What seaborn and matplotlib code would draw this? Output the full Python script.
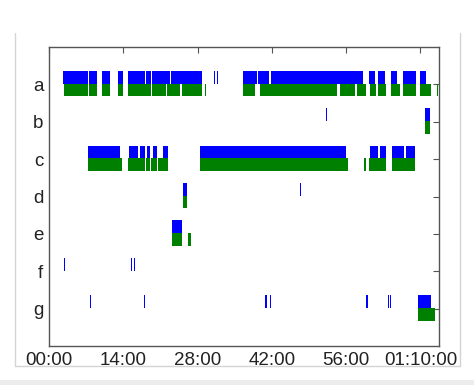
import matplotlib
matplotlib.use("Agg")
import matplotlib.pyplot as plt
import seaborn as sns
from matplotlib.patches import Rectangle
from matplotlib.lines import Line2D

# ---- data (seconds) ----
categories = ["a", "b", "c", "d", "e", "f", "g"]
tick_seconds = [0, 840, 1680, 2520, 3360, 4200]
tick_labels = ["00:00", "14:00", "28:00", "42:00", "56:00", "01:10:00"]

blue_a = [(0, 15), (162, 444), (456, 546), (595, 693), (783, 833), (889, 1085),
          (1096, 1153), (1168, 1367), (1379, 1725), (1866, 1876), (1900, 1910),
          (2189, 2234), (2241, 2347), (2365, 2490), (2505, 3552), (3620, 3684),
          (3721, 3797), (3872, 3936), (4004, 4155), (4192, 4268)]
blue_b = [(3133, 3146), (4256, 4305)]
blue_c = [(444, 802), (907, 1009), (1028, 1085), (1104, 1141), (1172, 1224),
          (1285, 1348), (1706, 3356), (3635, 3721), (3740, 3808), (3884, 4011),
          (4042, 4136)]
blue_d = [(1518, 1556), (2838, 2851)]
blue_e = [(1386, 1499)]
blue_f = [(172, 185), (925, 938), (963, 976)]
blue_g = [(466, 479), (1072, 1085), (2440, 2460), (2500, 2513), (3590, 3605),
          (3828, 3841), (3855, 3868), (4173, 4324)]

green_a = [(0, 15), (173, 444), (456, 546), (600, 690), (783, 840), (889, 1153),
           (1168, 1320), (1330, 1480), (1499, 1725), (1760, 1770), (2189, 2328),
           (2384, 3251), (3288, 3458), (3484, 3590), (3627, 3703), (3721, 3816),
           (3872, 3966), (4004, 4155), (4192, 4324), (4390, 4402)]
green_b = [(4256, 4305)]
green_c = [(444, 821), (896, 1085), (1096, 1141), (1153, 1217), (1235, 1348),
           (1706, 3382), (3565, 3577), (3620, 3808), (3880, 4144)]
green_d = [(1518, 1556)]
green_e = [(1386, 1499), (1567, 1605)]
green_f = []
green_g = [(4173, 4362)]

blue_rows = [blue_a, blue_b, blue_c, blue_d, blue_e, blue_f, blue_g]
green_rows = [green_a, green_b, green_c, green_d, green_e, green_f, green_g]

# ---- style ----
sns.set_style("white")
plt.rcParams["font.family"] = ["Liberation Sans", "DejaVu Sans"]

W, H = 474, 385
fig = plt.figure(figsize=(W / 100, H / 100), dpi=100)
fig.patch.set_facecolor("white")

# screenshot frame decoration
fig.add_artist(Line2D([15 / W, 15 / W], [1 - 33 / H, 1 - 366 / H], color="#d4d4d4", lw=1))
fig.add_artist(Line2D([460 / W, 460 / W], [1 - 33 / H, 1 - 366 / H], color="#d4d4d4", lw=1))
fig.add_artist(Line2D([15 / W, 460 / W], [1 - 366 / H, 1 - 366 / H], color="#d4d4d4", lw=1))
fig.add_artist(Rectangle((0, 0), 1, 1 - 380 / H, transform=fig.transFigure,
                         facecolor="#ececec", edgecolor="none"))

ax = fig.add_axes([49 / W, 1 - 346 / H, (439 - 49) / W, (346 - 47) / H])

MINW = 14
for i, (brow, grow) in enumerate(zip(blue_rows, green_rows)):
    if brow:
        ax.broken_barh([(s, max(e - s, MINW)) for s, e in brow], (i - 0.36, 0.34),
                       facecolors="#0000ff", edgecolors="none")
    if grow:
        ax.broken_barh([(s, max(e - s, MINW)) for s, e in grow], (i - 0.02, 0.34),
                       facecolors="#008000", edgecolors="none")

ax.set_xlim(0, 4410)
ax.set_ylim(7, -1)
ax.set_yticks(range(len(categories)))
ax.set_yticklabels(categories)
ax.set_xticks(tick_seconds)
ax.set_xticklabels(tick_labels)
ax.tick_params(axis="both", direction="in", length=4, width=0.8, color="#555555",
               labelsize=13.5, top=True, right=True, pad=4, labelcolor="#222222")
for sp in ax.spines.values():
    sp.set_visible(True)
    sp.set_color("#555555")
    sp.set_linewidth(1.0)

fig.savefig("out.png", dpi=100)
